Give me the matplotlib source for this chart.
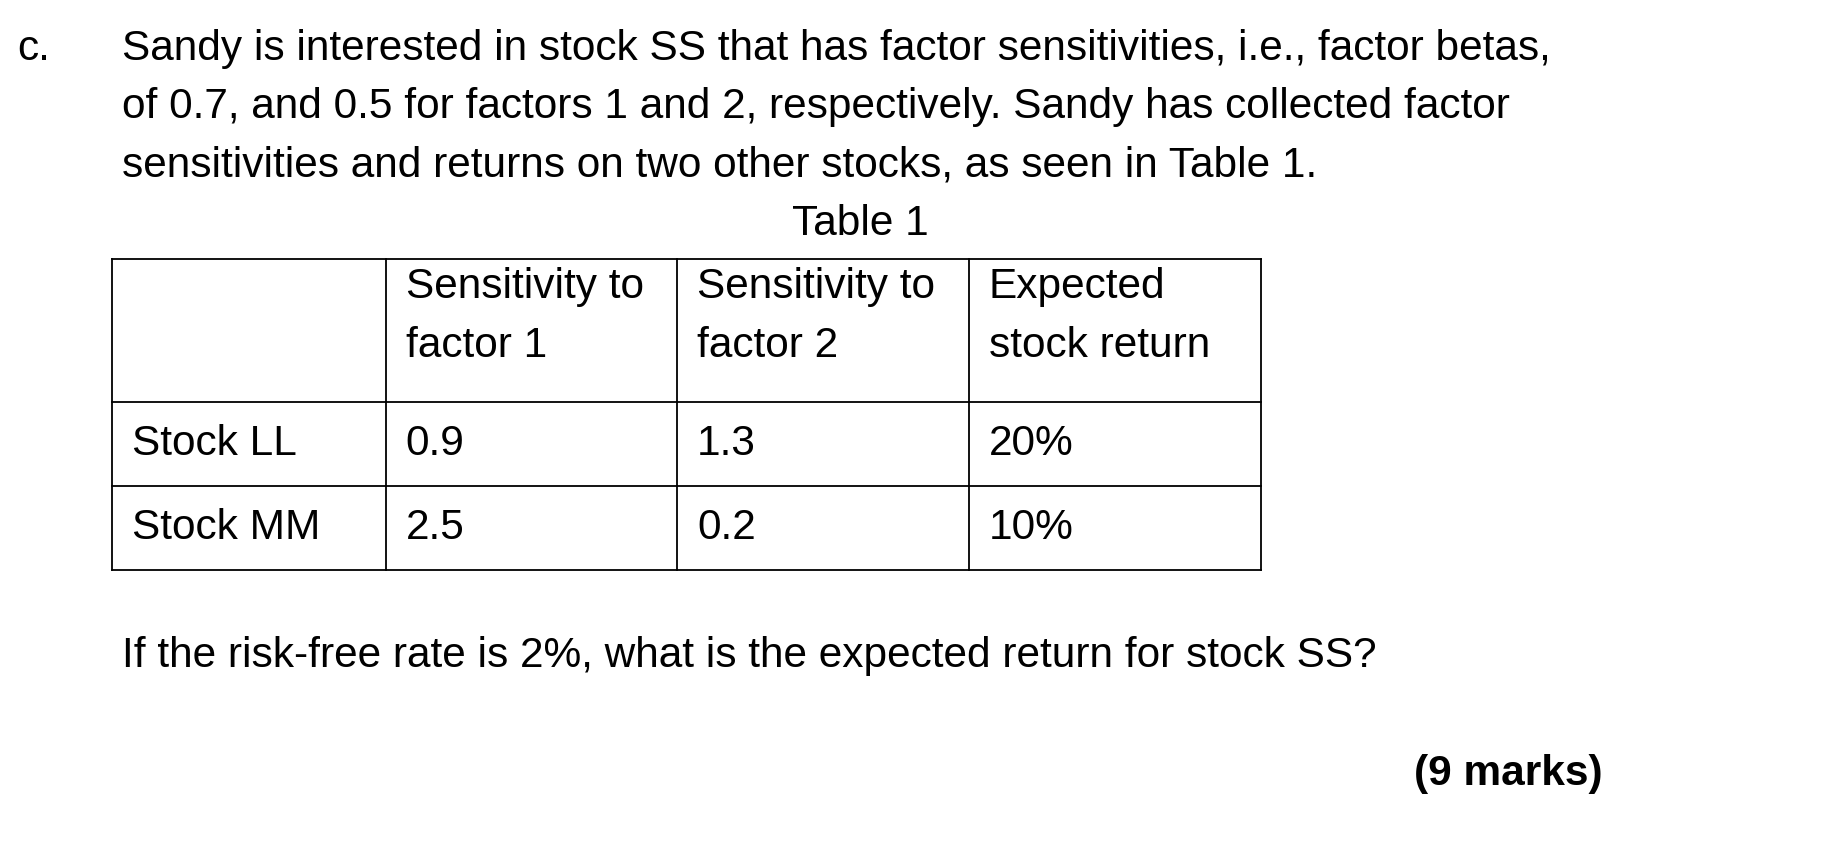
import matplotlib
matplotlib.use("Agg")
import matplotlib.pyplot as plt

plt.rcParams['font.family'] = ['Liberation Sans', 'DejaVu Sans']

W, H = 1568.0, 729.0
question_lines = [
    "Sandy is interested in stock SS that has factor sensitivities, i.e., factor betas,",
    "of 0.7, and 0.5 for factors 1 and 2, respectively. Sandy has collected factor",
    "sensitivities and returns on two other stocks, as seen in Table 1.",
]
header = [["", ""], ["Sensitivity to", "factor 1"], ["Sensitivity to", "factor 2"], ["Expected", "stock return"]]
row_labels = ["Stock LL", "Stock MM"]
factor1 = ["0.9", "2.5"]
factor2 = ["1.3", "0.2"]
returns = ["20%", "10%"]
follow_up = "If the risk-free rate is 2%, what is the expected return for stock SS?"
marks = "(9 marks)"

fig = plt.figure(figsize=(18.28, 8.5), dpi=100)
ax = fig.add_axes([0, 0, 1, 1])
ax.set_xlim(0, W); ax.set_ylim(H, 0); ax.axis('off')
fs = 30.5

ax.text(15, 42, "c.", fontsize=fs, va='center')
for i, l in enumerate(question_lines):
    ax.text(105, 42 + 50 * i, l, fontsize=fs, va='center')
ax.text(738, 192, "Table 1", fontsize=fs, va='center', ha='center')

xs = [96, 331, 581, 831, 1082]
ys = [222, 345, 417, 489]
for x in xs:
    ax.plot([x, x], [ys[0], ys[-1]], color='black', lw=1.3)
for y in ys:
    ax.plot([xs[0], xs[-1]], [y, y], color='black', lw=1.3)
for c, (a, b) in enumerate(header):
    ax.text(xs[c] + 17, 246, a, fontsize=fs, va='center')
    ax.text(xs[c] + 17, 297, b, fontsize=fs, va='center')
for r in range(2):
    yc = (ys[r + 1] + ys[r + 2]) / 2
    for c, v in enumerate([row_labels[r], factor1[r], factor2[r], returns[r]]):
        ax.text(xs[c] + 17, yc, v, fontsize=fs, va='center')

ax.text(105, 563, follow_up, fontsize=fs, va='center')
ax.text(1375, 664, marks, fontsize=fs, va='center', ha='right', fontweight='bold')
fig.savefig("out.png", dpi=100)
